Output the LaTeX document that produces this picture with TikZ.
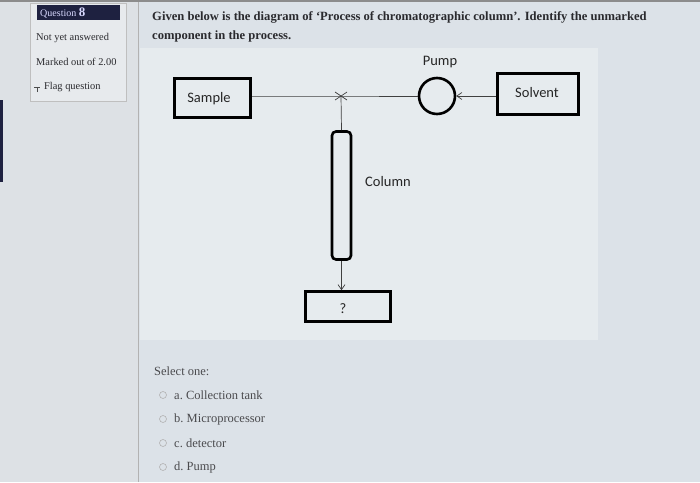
\documentclass[tikz,border=0pt]{standalone}
\usepackage{fontspec}
\setmainfont{Liberation Serif}
\newfontfamily\diagfont{Carlito}
\usetikzlibrary{arrows.meta,calc}
\definecolor{bgc}{HTML}{DCE2E8}
\definecolor{panelc}{HTML}{E6EBEE}
\definecolor{sidec}{HTML}{DDE1E5}
\definecolor{navyc}{HTML}{1E2140}
\definecolor{txtc}{HTML}{2A2A2E}
\tikzset{
  unitbox/.style={draw=black, line width=2.6pt, inner sep=0pt, fill=none},
  conn/.style={draw=black!75, line width=0.7pt},
  arr/.style={conn, -{Straight Barb[length=5pt,width=7pt]}},
  dlabel/.style={font=\diagfont\fontsize{14.5}{16}\selectfont, text=black!85, inner sep=0pt},
  sidetext/.style={font=\fontsize{10.4}{12}\selectfont, text=txtc, anchor=west, inner sep=0pt},
  opttext/.style={font=\fontsize{12.5}{14}\selectfont, text=txtc!85, anchor=west, inner sep=0pt},
  radio/.style={draw=black!30, line width=0.6pt, circle, minimum size=7pt, inner sep=0pt},
}
\begin{document}
\begin{tikzpicture}[x=1pt,y=-1pt]
\useasboundingbox (0,0) rectangle (700,482);
% background
\fill[bgc] (0,0) rectangle (700,482);
\fill[panelc] (140,48) rectangle (598,340);
\fill[sidec] (0,0) rectangle (138,482);
\draw[black!30, line width=1pt] (138,0) -- (138,482);
\fill[black!45] (0,0) rectangle (700,2);
\fill[navyc] (0,100) rectangle (3,182);
% sidebar
\draw[black!25, line width=0.8pt, fill=sidec!70!white] (30,3) rectangle (126,101);
\node[fill=navyc, minimum width=83pt, minimum height=15pt, inner sep=0pt, anchor=north west] (qhead) at (37,5) {};
\node[anchor=west, inner sep=0pt, text=white!85!blue, font=\fontsize{10}{11}\selectfont] (qlab) at (40,12.5) {Question \textbf{\fontsize{13}{14}\selectfont 8}};
\node[sidetext] (nya) at (36,38) {Not yet answered};
\node[sidetext] (mo) at (36,62) {Marked out of 2.00};
\node[sidetext] (flag) at (44,87) {Flag question};
\draw[black!70, line width=0.7pt] (37,92) -- (37,87) (34,87) -- (40,87);
% title
\node[anchor=west, inner sep=0pt, font=\bfseries\fontsize{12.6}{14}\selectfont, text=txtc] (t1) at (152,17) {Given below is the diagram of `Process of chromatographic column'. Identify the unmarked};
\node[anchor=west, inner sep=0pt, font=\bfseries\fontsize{12.6}{14}\selectfont, text=txtc] (t2) at (152,36) {component in the process.};
% diagram
\node[unitbox, minimum width=76pt, minimum height=39pt] (sample) at (212.5,98) {};
\node[dlabel] (samplet) at (209,99) {Sample};
\node[unitbox, minimum width=81pt, minimum height=41pt] (solvent) at (538,94) {};
\node[dlabel] (solventt) at (537,93) {Solvent};
\node[draw=black, line width=2.6pt, circle, minimum size=36pt, inner sep=0pt] (pump) at (437,96) {};
\node[dlabel] (pumpt) at (440,62) {Pump};
\coordinate (j) at (341,96);
\draw[conn] (sample.east |- j) -- (j) -- (pump.west);
\draw[conn] ($(j)+(-6,-4)$) -- ($(j)+(6,4)$) ($(j)+(-6,4)$) -- ($(j)+(6,-4)$);
\draw[arr] (solvent.west |- pump) -- (pump.east);
\node[draw=black, line width=2.6pt, rounded corners=4pt, minimum width=19pt, minimum height=128pt, inner sep=0pt] (column) at (341.5,195.5) {};
\node[dlabel] (columnt) at (388,182) {Column};
\draw[conn] (j) -- (column.north);
\node[unitbox, minimum width=85pt, minimum height=30pt] (q) at (348,306.5) {};
\node[dlabel] (qt) at (343,309) {?};
\draw[arr] (column.south) -- (column.south |- q.north);
% options
\node[opttext] (sel) at (154,371) {Select one:};
\node[radio] (r1) at (163,395) {};
\node[opttext] (o1) at (174,395) {a.\ Collection tank};
\node[radio] (r2) at (163,419) {};
\node[opttext] (o2) at (174,419) {b.\ Microprocessor};
\node[radio] (r3) at (163,443) {};
\node[opttext] (o3) at (174,443) {c.\ detector};
\node[radio] (r4) at (163,467) {};
\node[opttext] (o4) at (174,467) {d.\ Pump};
\end{tikzpicture}
\end{document}
